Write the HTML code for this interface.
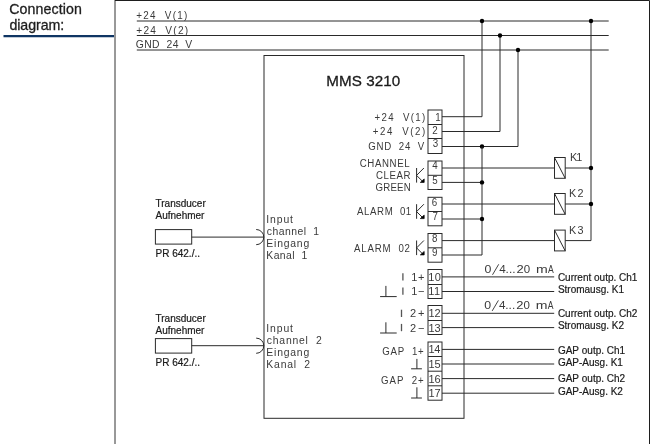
<!DOCTYPE html>
<html><head><meta charset="utf-8">
<style>
html,body{margin:0;padding:0;background:#fff;width:650px;height:444px;overflow:hidden}
svg{display:block;font-family:"Liberation Sans",sans-serif;will-change:transform}
.l{stroke:#2a2a2a;stroke-width:1;fill:none}
.l2{stroke:#555;stroke-width:1.3;fill:none}
.f{stroke:#1e1e1e;stroke-width:1;fill:none}
.fl{stroke:#333;stroke-width:1;fill:none}
.b{stroke:#0f3563;stroke-width:2.3}
.c{font-size:11px;fill:#3a3a3a}
.n{font-size:10.5px;fill:#3a3a3a}
.a{font-size:10px;fill:#1a1a1a;stroke:#1a1a1a;stroke-width:0.2}
.h{font-size:14px;fill:#1e1e1e;stroke:#1e1e1e;stroke-width:0.3}
.m{font-size:15px;fill:#1a1a1a;stroke:#1a1a1a;stroke-width:0.3}
.d{fill:#000}
.sl{stroke:#3a3a3a;stroke-width:0.95}
</style></head><body>
<svg width="650" height="444" viewBox="0 0 650 444">
<g transform="scale(1.0,1)">
<text class="h" x="9.28" y="13.9" textLength="72.64" lengthAdjust="spacing" style="font-size:14.2px;">Connection</text>
</g>
<g transform="scale(1.0,1)">
<text class="h" x="9.4" y="29.8" textLength="54.89" lengthAdjust="spacing" style="font-size:14.2px;">diagram:</text>
</g>
<line class="b" x1="3.5" y1="36.2" x2="114" y2="36.2"/>
<line class="fl" x1="115" y1="0" x2="115" y2="444"/>
<path class="f" d="M115 0.5H649.5V444"/>
<line class="l" x1="136.8" y1="21" x2="608.7" y2="21"/>
<line class="l" x1="136.8" y1="35.5" x2="608.7" y2="35.5"/>
<line class="l" x1="136.8" y1="50" x2="608.7" y2="50"/>
<g transform="scale(0.88,1)">
<text class="c" x="154.91" y="18.8" textLength="57.83" lengthAdjust="spacing" style="font-size:11.2px;">+24  V(1)</text>
</g>
<g transform="scale(0.88,1)">
<text class="c" x="154.89" y="33.6" textLength="59.0" lengthAdjust="spacing" style="font-size:11.5px;">+24  V(2)</text>
</g>
<g transform="scale(0.88,1)">
<text class="c" x="154.29" y="48.4" textLength="64.17" lengthAdjust="spacing" style="font-size:11.8px;">GND  24  V</text>
</g>
<rect class="l" x="264" y="55.5" width="200" height="362.8"/>
<g transform="scale(1.0,1)">
<text class="m" x="326.15" y="85.8" textLength="74.14" lengthAdjust="spacing" style="font-size:15.2px;">MMS 3210</text>
</g>
<rect class="l" x="428.0" y="110.0" width="14.0" height="43.5"/>
<line class="l" x1="428.0" y1="124.5" x2="442.0" y2="124.5"/>
<line class="l" x1="428.0" y1="138.5" x2="442.0" y2="138.5"/>
<g transform="scale(0.95,1)">
<text class="n" x="458.16" y="120.7" textLength="4.13" lengthAdjust="spacing" style="font-size:10.3px;">1</text>
</g>
<g transform="scale(0.95,1)">
<text class="n" x="455.06" y="133.6" textLength="6.93" lengthAdjust="spacing" style="font-size:10.3px;">2</text>
</g>
<g transform="scale(0.95,1)">
<text class="n" x="455.4" y="147.5" textLength="6.53" lengthAdjust="spacing" style="font-size:10.3px;">3</text>
</g>
<rect class="l" x="428.0" y="161.0" width="14.0" height="28.5"/>
<line class="l" x1="428.0" y1="175.3" x2="442.0" y2="175.3"/>
<g transform="scale(0.95,1)">
<text class="n" x="455.13" y="169.3" textLength="6.33" lengthAdjust="spacing" style="font-size:10.3px;">4</text>
</g>
<g transform="scale(0.95,1)">
<text class="n" x="454.96" y="184.1" textLength="6.63" lengthAdjust="spacing" style="font-size:10.3px;">5</text>
</g>
<rect class="l" x="428.0" y="197.3" width="14.0" height="28.5"/>
<line class="l" x1="428.0" y1="211.5" x2="442.0" y2="211.5"/>
<g transform="scale(0.95,1)">
<text class="n" x="454.53" y="205.9" textLength="7.19" lengthAdjust="spacing" style="font-size:10.3px;">6</text>
</g>
<g transform="scale(0.95,1)">
<text class="n" x="455.26" y="220.1" textLength="6.52" lengthAdjust="spacing" style="font-size:10.3px;">7</text>
</g>
<rect class="l" x="428.0" y="233.5" width="14.0" height="28.7"/>
<line class="l" x1="428.0" y1="247.8" x2="442.0" y2="247.8"/>
<g transform="scale(0.95,1)">
<text class="n" x="454.71" y="241.9" textLength="7.0" lengthAdjust="spacing" style="font-size:10.3px;">8</text>
</g>
<g transform="scale(0.95,1)">
<text class="n" x="454.68" y="256.4" textLength="7.08" lengthAdjust="spacing" style="font-size:10.3px;">9</text>
</g>
<rect class="l" x="428.0" y="269.5" width="14.0" height="29.0"/>
<line class="l" x1="428.0" y1="284.5" x2="442.0" y2="284.5"/>
<g transform="scale(1.0,1)">
<text class="n" x="428.16" y="280.6" textLength="12.77" lengthAdjust="spacing" style="font-size:11.0px;">10</text>
</g>
<g transform="scale(1.0,1)">
<text class="n" x="428.16" y="295.1" textLength="11.98" lengthAdjust="spacing" style="font-size:11.0px;">11</text>
</g>
<rect class="l" x="428.0" y="305.5" width="14.0" height="29.0"/>
<line class="l" x1="428.0" y1="320.5" x2="442.0" y2="320.5"/>
<g transform="scale(1.0,1)">
<text class="n" x="428.56" y="316.9" textLength="12.09" lengthAdjust="spacing" style="font-size:11.0px;">12</text>
</g>
<g transform="scale(1.0,1)">
<text class="n" x="428.56" y="331.5" textLength="12.02" lengthAdjust="spacing" style="font-size:11.0px;">13</text>
</g>
<rect class="l" x="428.0" y="342.0" width="14.0" height="58.2"/>
<line class="l" x1="428.0" y1="356.5" x2="442.0" y2="356.5"/>
<line class="l" x1="428.0" y1="371.2" x2="442.0" y2="371.2"/>
<line class="l" x1="428.0" y1="385.8" x2="442.0" y2="385.8"/>
<g transform="scale(1.0,1)">
<text class="n" x="428.56" y="352.9" textLength="11.86" lengthAdjust="spacing" style="font-size:11.0px;">14</text>
</g>
<g transform="scale(1.0,1)">
<text class="n" x="428.56" y="367.5" textLength="12.0" lengthAdjust="spacing" style="font-size:11.0px;">15</text>
</g>
<g transform="scale(1.0,1)">
<text class="n" x="428.56" y="382.6" textLength="12.02" lengthAdjust="spacing" style="font-size:11.0px;">16</text>
</g>
<g transform="scale(1.0,1)">
<text class="n" x="428.56" y="397" textLength="12.09" lengthAdjust="spacing" style="font-size:11.0px;">17</text>
</g>
<g transform="scale(0.88,1)">
<text class="c" x="425.49" y="120.6" textLength="57.7" lengthAdjust="spacing" style="font-size:11px;">+24  V(1)</text>
</g>
<g transform="scale(0.88,1)">
<text class="c" x="423.67" y="135.1" textLength="59.51" lengthAdjust="spacing" style="font-size:11px;">+24  V(2)</text>
</g>
<g transform="scale(0.88,1)">
<text class="c" x="418.42" y="150.3" textLength="63.78" lengthAdjust="spacing" style="font-size:11px;">GND  24  V</text>
</g>
<g transform="scale(0.88,1)">
<text class="c" x="408.76" y="166.6" textLength="56.83" lengthAdjust="spacing" style="font-size:11px;">CHANNEL</text>
</g>
<g transform="scale(0.88,1)">
<text class="c" x="427.28" y="178.6" textLength="39.14" lengthAdjust="spacing" style="font-size:11px;">CLEAR</text>
</g>
<g transform="scale(0.88,1)">
<text class="c" x="426.61" y="190.6" textLength="40.2" lengthAdjust="spacing" style="font-size:11px;">GREEN</text>
</g>
<g transform="scale(0.88,1)">
<text class="c" x="405.66" y="215.5" textLength="61.69" lengthAdjust="spacing" style="font-size:11px;">ALARM  01</text>
</g>
<g transform="scale(0.88,1)">
<text class="c" x="402.36" y="252" textLength="63.53" lengthAdjust="spacing" style="font-size:11px;">ALARM  02</text>
</g>
<path class="l" d="M416.6 168.0V182.6"/>
<path class="l" d="M416.6 175.4L423.9 168.0"/>
<path class="l" d="M416.6 175.4L423.1 181.9"/>
<path class="d" style="stroke:#000;stroke-width:0.7;stroke-linejoin:round" d="M420.3 182.4L424.2 182.4L424.2 178.9Z"/>
<path class="l" d="M416.6 204.2V218.8"/>
<path class="l" d="M416.6 211.6L423.9 204.2"/>
<path class="l" d="M416.6 211.6L423.1 218.1"/>
<path class="d" style="stroke:#000;stroke-width:0.7;stroke-linejoin:round" d="M420.3 218.6L424.2 218.6L424.2 215.1Z"/>
<path class="l" d="M416.6 240.5V255.1"/>
<path class="l" d="M416.6 247.9L423.9 240.5"/>
<path class="l" d="M416.6 247.9L423.1 254.4"/>
<path class="d" style="stroke:#000;stroke-width:0.7;stroke-linejoin:round" d="M420.3 254.9L424.2 254.9L424.2 251.4Z"/>
<line class="l2" x1="402.9" y1="273.3" x2="402.9" y2="280.6"/>
<g transform="scale(1.0,1)">
<text class="c" x="411.26" y="280.6" textLength="13.28" lengthAdjust="spacing" style="font-size:11px;">1+</text>
</g>
<line class="l2" x1="402.9" y1="287.5" x2="402.9" y2="294.8"/>
<g transform="scale(1.0,1)">
<text class="c" x="411.26" y="294.8" textLength="13.27" lengthAdjust="spacing" style="font-size:11px;">1−</text>
</g>
<line class="l" x1="385.9" y1="285.9" x2="385.9" y2="296.6"/>
<line class="l" x1="380.1" y1="296.6" x2="396.7" y2="296.6"/>
<line class="l2" x1="401.5" y1="309.7" x2="401.5" y2="317"/>
<g transform="scale(1.0,1)">
<text class="c" x="409.95" y="317.4" textLength="14.5" lengthAdjust="spacing" style="font-size:11px;">2+</text>
</g>
<line class="l2" x1="401.5" y1="323.9" x2="401.5" y2="331.2"/>
<g transform="scale(1.0,1)">
<text class="c" x="409.95" y="331.6" textLength="14.49" lengthAdjust="spacing" style="font-size:11px;">2−</text>
</g>
<line class="l" x1="385.9" y1="322.3" x2="385.9" y2="333"/>
<line class="l" x1="380.1" y1="333" x2="396.7" y2="333"/>
<g transform="scale(0.88,1)">
<text class="c" x="434.33" y="355.1" textLength="47.23" lengthAdjust="spacing" style="font-size:11px;">GAP  1+</text>
</g>
<line class="l" x1="416.9" y1="358.9" x2="416.9" y2="368.8"/>
<line class="l" x1="411.1" y1="368.8" x2="421.9" y2="368.8"/>
<g transform="scale(0.88,1)">
<text class="c" x="432.86" y="384.3" textLength="48.71" lengthAdjust="spacing" style="font-size:11px;">GAP  2+</text>
</g>
<line class="l" x1="416.9" y1="387.3" x2="416.9" y2="398"/>
<line class="l" x1="411.1" y1="398" x2="421.9" y2="398"/>
<line class="l" x1="442.0" y1="116.7" x2="482.0" y2="116.7"/>
<line class="l" x1="482.0" y1="116.7" x2="482.0" y2="21"/>
<line class="l" x1="442.0" y1="131.5" x2="500.0" y2="131.5"/>
<line class="l" x1="500.0" y1="131.5" x2="500.0" y2="35.5"/>
<line class="l" x1="442.0" y1="146.5" x2="518.0" y2="146.5"/>
<line class="l" x1="518.0" y1="146.5" x2="518.0" y2="50"/>
<circle class="d" cx="482.0" cy="21" r="2.2"/>
<circle class="d" cx="500.0" cy="35.5" r="2.2"/>
<circle class="d" cx="518.0" cy="50" r="2.2"/>
<circle class="d" cx="482.0" cy="146.5" r="2.2"/>
<line class="l" x1="482.0" y1="146.5" x2="482.0" y2="255.0"/>
<line class="l" x1="442.0" y1="182.4" x2="482.0" y2="182.4"/>
<line class="l" x1="442.0" y1="219.0" x2="482.0" y2="219.0"/>
<line class="l" x1="442.0" y1="255.0" x2="482.0" y2="255.0"/>
<circle class="d" cx="482.0" cy="182.4" r="2.2"/>
<circle class="d" cx="482.0" cy="219.0" r="2.2"/>
<line class="l" x1="442.0" y1="168.0" x2="554.5" y2="168.0"/>
<rect class="l" x="554.5" y="157.5" width="10.7" height="20.8"/>
<path class="l" d="M554.5 157.5L565.2 178.3"/>
<line class="l" x1="565.2" y1="168.0" x2="591" y2="168.0"/>
<g transform="scale(1.0,1)">
<text class="c" x="570.11" y="160.8" textLength="12.11" lengthAdjust="spacing" style="font-size:10.8px;">K1</text>
</g>
<line class="l" x1="442.0" y1="204.0" x2="554.5" y2="204.0"/>
<rect class="l" x="554.5" y="193.5" width="10.7" height="20.8"/>
<path class="l" d="M554.5 193.5L565.2 214.3"/>
<line class="l" x1="565.2" y1="204.0" x2="591" y2="204.0"/>
<g transform="scale(1.0,1)">
<text class="c" x="568.91" y="196.9" textLength="14.53" lengthAdjust="spacing" style="font-size:10.8px;">K2</text>
</g>
<line class="l" x1="442.0" y1="240.6" x2="554.5" y2="240.6"/>
<rect class="l" x="554.5" y="230.1" width="10.7" height="20.8"/>
<path class="l" d="M554.5 230.1L565.2 250.9"/>
<line class="l" x1="565.2" y1="240.6" x2="591" y2="240.6"/>
<g transform="scale(1.0,1)">
<text class="c" x="568.91" y="233.5" textLength="14.66" lengthAdjust="spacing" style="font-size:10.8px;">K3</text>
</g>
<line class="l" x1="591" y1="21" x2="591" y2="240.6"/>
<circle class="d" cx="591" cy="21" r="2.2"/>
<circle class="d" cx="591" cy="168.0" r="2.2"/>
<circle class="d" cx="591" cy="204.0" r="2.2"/>
<line class="l" x1="442.0" y1="276.9" x2="554.2" y2="276.9"/>
<line class="l" x1="442.0" y1="291.5" x2="554.2" y2="291.5"/>
<line class="l" x1="442.0" y1="313.3" x2="554.2" y2="313.3"/>
<line class="l" x1="442.0" y1="327.6" x2="554.2" y2="327.6"/>
<line class="l" x1="442.0" y1="349.4" x2="554.2" y2="349.4"/>
<line class="l" x1="442.0" y1="364.0" x2="554.2" y2="364.0"/>
<line class="l" x1="442.0" y1="378.6" x2="554.2" y2="378.6"/>
<line class="l" x1="442.0" y1="393.2" x2="554.2" y2="393.2"/>
<text class="c" transform="translate(484.62,273.2) scale(1.046,1)" style="font-size:11.8px;">0</text>
<text class="c" transform="translate(499.23,273.2) scale(0.992,1)" style="font-size:11.8px;">4</text>
<text class="c" transform="translate(505.52,273.2) scale(1.000,1)" style="font-size:11.8px;">.</text>
<text class="c" transform="translate(508.92,273.2) scale(1.000,1)" style="font-size:11.8px;">.</text>
<text class="c" transform="translate(512.32,273.2) scale(1.000,1)" style="font-size:11.8px;">.</text>
<text class="c" transform="translate(516.55,273.2) scale(1.098,1)" style="font-size:11.8px;">2</text>
<text class="c" transform="translate(523.85,273.2) scale(0.975,1)" style="font-size:11.8px;">0</text>
<text class="c" transform="translate(535.96,273.2) scale(1.197,1)" style="font-size:11.8px;">m</text>
<text class="c" transform="translate(547.98,273.2) scale(0.728,1)" style="font-size:11.8px;">A</text>
<line class="sl" x1="492.5" y1="274.8" x2="498.7" y2="264.3"/>
<text class="c" transform="translate(484.32,309.3) scale(1.046,1)" style="font-size:11.8px;">0</text>
<text class="c" transform="translate(498.93,309.3) scale(0.992,1)" style="font-size:11.8px;">4</text>
<text class="c" transform="translate(505.22,309.3) scale(1.000,1)" style="font-size:11.8px;">.</text>
<text class="c" transform="translate(508.62,309.3) scale(1.000,1)" style="font-size:11.8px;">.</text>
<text class="c" transform="translate(512.02,309.3) scale(1.000,1)" style="font-size:11.8px;">.</text>
<text class="c" transform="translate(516.25,309.3) scale(1.098,1)" style="font-size:11.8px;">2</text>
<text class="c" transform="translate(523.55,309.3) scale(0.975,1)" style="font-size:11.8px;">0</text>
<text class="c" transform="translate(535.66,309.3) scale(1.197,1)" style="font-size:11.8px;">m</text>
<text class="c" transform="translate(547.68,309.3) scale(0.728,1)" style="font-size:11.8px;">A</text>
<line class="sl" x1="492.2" y1="310.9" x2="498.4" y2="300.4"/>
<text class="a" x="557.9" y="280.8">Current outp. Ch1</text>
<text class="a" x="557.9" y="292.5">Stromausg. K1</text>
<text class="a" x="557.9" y="317.0">Current outp. Ch2</text>
<text class="a" x="557.9" y="329.2">Stromausg. K2</text>
<text class="a" x="557.9" y="353.6">GAP outp. Ch1</text>
<text class="a" x="557.9" y="366.3">GAP-Ausg. K1</text>
<text class="a" x="557.9" y="382.4">GAP outp. Ch2</text>
<text class="a" x="557.9" y="395.1">GAP-Ausg. K2</text>
<text class="a" x="155.5" y="207.0">Transducer</text>
<text class="a" x="155.5" y="219.29999999999998">Aufnehmer</text>
<rect class="l" x="155.4" y="229.6" width="36.3" height="14.5"/>
<text class="a" x="155.5" y="256.90000000000003">PR 642./..</text>
<line class="l" x1="191.7" y1="237.1" x2="264" y2="237.1"/>
<path class="l" d="M256.2 229.5A7.6 7.6 0 0 1 256.2 244.7"/>
<g transform="scale(1.0,1)">
<text class="c" x="266.24" y="223.0" textLength="26.74" lengthAdjust="spacing" style="font-size:10.4px;">Input</text>
</g>
<g transform="scale(1.0,1)">
<text class="c" x="266.76" y="234.9" textLength="52.35" lengthAdjust="spacing" style="font-size:10.4px;">channel  1</text>
</g>
<g transform="scale(1.0,1)">
<text class="c" x="266.35" y="246.9" textLength="42.82" lengthAdjust="spacing" style="font-size:10.4px;">Eingang</text>
</g>
<g transform="scale(1.0,1)">
<text class="c" x="266.35" y="259.0" textLength="40.96" lengthAdjust="spacing" style="font-size:10.4px;">Kanal  1</text>
</g>
<text class="a" x="155.5" y="322.40000000000003">Transducer</text>
<text class="a" x="155.5" y="334.1">Aufnehmer</text>
<rect class="l" x="155.4" y="338.6" width="36.3" height="14.5"/>
<text class="a" x="155.5" y="365.90000000000003">PR 642./..</text>
<line class="l" x1="191.7" y1="345.7" x2="264" y2="345.7"/>
<path class="l" d="M256.2 338.1A7.6 7.6 0 0 1 256.2 353.3"/>
<g transform="scale(1.0,1)">
<text class="c" x="266.24" y="332.1" textLength="26.74" lengthAdjust="spacing" style="font-size:10.4px;">Input</text>
</g>
<g transform="scale(1.0,1)">
<text class="c" x="266.76" y="344.0" textLength="55.06" lengthAdjust="spacing" style="font-size:10.4px;">channel  2</text>
</g>
<g transform="scale(1.0,1)">
<text class="c" x="266.35" y="356.1" textLength="42.82" lengthAdjust="spacing" style="font-size:10.4px;">Eingang</text>
</g>
<g transform="scale(1.0,1)">
<text class="c" x="266.35" y="368.0" textLength="43.68" lengthAdjust="spacing" style="font-size:10.4px;">Kanal  2</text>
</g>
</svg>
</body></html>
